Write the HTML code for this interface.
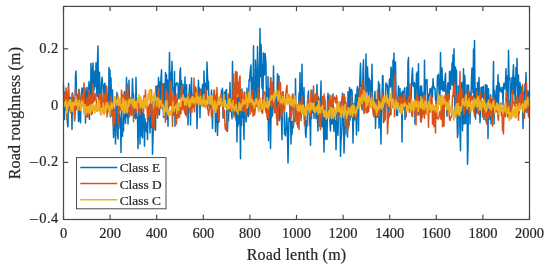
<!DOCTYPE html>
<html><head><meta charset="utf-8"><style>
html,body{margin:0;padding:0;background:#fff;}
svg{display:block;}
text{font-family:"Liberation Serif","Times New Roman",serif;fill:#262626;stroke:#262626;stroke-width:0.2px;}
</style></head><body>
<svg width="550" height="268" viewBox="0 0 550 268">
<rect x="0" y="0" width="550" height="268" fill="#fff"/>
<g stroke="#4a4a4a" stroke-width="1.2" fill="none">
<line x1="63.50" y1="219.5" x2="63.50" y2="214.8"/>
<line x1="63.50" y1="6.4" x2="63.50" y2="11.100000000000001"/>
<line x1="110.10" y1="219.5" x2="110.10" y2="214.8"/>
<line x1="110.10" y1="6.4" x2="110.10" y2="11.100000000000001"/>
<line x1="156.70" y1="219.5" x2="156.70" y2="214.8"/>
<line x1="156.70" y1="6.4" x2="156.70" y2="11.100000000000001"/>
<line x1="203.30" y1="219.5" x2="203.30" y2="214.8"/>
<line x1="203.30" y1="6.4" x2="203.30" y2="11.100000000000001"/>
<line x1="249.90" y1="219.5" x2="249.90" y2="214.8"/>
<line x1="249.90" y1="6.4" x2="249.90" y2="11.100000000000001"/>
<line x1="296.50" y1="219.5" x2="296.50" y2="214.8"/>
<line x1="296.50" y1="6.4" x2="296.50" y2="11.100000000000001"/>
<line x1="343.10" y1="219.5" x2="343.10" y2="214.8"/>
<line x1="343.10" y1="6.4" x2="343.10" y2="11.100000000000001"/>
<line x1="389.70" y1="219.5" x2="389.70" y2="214.8"/>
<line x1="389.70" y1="6.4" x2="389.70" y2="11.100000000000001"/>
<line x1="436.30" y1="219.5" x2="436.30" y2="214.8"/>
<line x1="436.30" y1="6.4" x2="436.30" y2="11.100000000000001"/>
<line x1="482.90" y1="219.5" x2="482.90" y2="214.8"/>
<line x1="482.90" y1="6.4" x2="482.90" y2="11.100000000000001"/>
<line x1="529.50" y1="219.5" x2="529.50" y2="214.8"/>
<line x1="529.50" y1="6.4" x2="529.50" y2="11.100000000000001"/>
<line x1="63.5" y1="162.40" x2="68.2" y2="162.40"/>
<line x1="529.5" y1="162.40" x2="524.8" y2="162.40"/>
<line x1="63.5" y1="105.60" x2="68.2" y2="105.60"/>
<line x1="529.5" y1="105.60" x2="524.8" y2="105.60"/>
<line x1="63.5" y1="48.80" x2="68.2" y2="48.80"/>
<line x1="529.5" y1="48.80" x2="524.8" y2="48.80"/>
</g>
<g id="data">
<path d="M63.5 84.5 L64.0 110.6 L64.5 119.5 L65.0 92.2 L65.5 110.4 L66.0 108.3 L66.5 99.2 L67.0 108.6 L67.5 124.0 L68.0 126.8 L68.5 83.3 L69.0 109.0 L69.5 96.7 L70.0 101.0 L70.5 97.9 L71.0 108.6 L71.5 103.5 L72.0 129.6 L72.5 93.1 L73.0 97.8 L73.5 100.8 L74.0 97.6 L74.5 114.3 L75.0 112.5 L75.5 75.5 L76.0 71.0 L76.5 95.1 L77.0 94.2 L77.5 100.8 L78.0 101.4 L78.5 121.6 L79.0 89.3 L79.5 93.8 L80.0 119.6 L80.5 122.8 L81.0 106.2 L81.5 93.4 L82.0 88.0 L82.5 97.5 L83.0 98.3 L83.5 88.0 L84.0 88.0 L84.5 94.2 L85.0 88.0 L85.5 123.1 L86.0 95.3 L86.5 94.4 L87.0 87.3 L87.5 99.6 L88.0 104.2 L88.5 97.1 L89.0 81.4 L89.5 119.5 L90.0 84.6 L90.5 101.0 L91.0 63.6 L91.5 100.0 L92.0 89.2 L92.5 70.6 L93.0 63.1 L93.5 87.1 L94.0 90.5 L94.5 74.9 L95.0 70.9 L95.5 86.6 L96.0 63.1 L96.5 87.7 L97.0 96.4 L97.5 60.7 L98.0 46.1 L98.5 103.3 L99.0 82.0 L99.5 72.3 L100.0 95.3 L100.5 90.4 L101.0 99.9 L101.5 82.8 L102.0 77.3 L102.5 83.9 L103.0 85.3 L103.5 99.8 L104.0 93.9 L104.5 83.8 L105.0 83.3 L105.5 103.4 L106.0 104.4 L106.5 86.6 L107.0 94.6 L107.5 102.7 L108.0 104.7 L108.5 111.6 L109.0 67.4 L109.5 99.4 L110.0 70.0 L110.5 117.0 L111.0 78.0 L111.5 99.2 L112.0 105.1 L112.5 90.0 L113.0 109.8 L113.5 137.4 L114.0 120.3 L114.5 109.2 L115.0 120.1 L115.5 144.1 L116.0 119.6 L116.5 101.5 L117.0 92.6 L117.5 135.0 L118.0 139.0 L118.5 106.0 L119.0 117.1 L119.5 113.7 L120.0 128.3 L120.5 118.2 L121.0 152.6 L121.5 106.2 L122.0 121.7 L122.5 136.3 L123.0 123.3 L123.5 131.0 L124.0 94.9 L124.5 91.5 L125.0 118.0 L125.5 123.3 L126.0 101.6 L126.5 77.5 L127.0 117.1 L127.5 99.8 L128.0 124.0 L128.5 104.4 L129.0 80.2 L129.5 104.8 L130.0 112.5 L130.5 107.3 L131.0 98.1 L131.5 104.1 L132.0 96.5 L132.5 78.8 L133.0 94.9 L133.5 94.0 L134.0 117.5 L134.5 112.1 L135.0 110.7 L135.5 118.7 L136.0 77.5 L136.5 108.6 L137.0 118.3 L137.5 117.6 L138.0 148.6 L138.5 123.7 L139.0 106.8 L139.5 99.1 L140.0 144.1 L140.5 108.1 L141.0 135.9 L141.5 101.8 L142.0 116.1 L142.5 138.0 L143.0 113.0 L143.5 127.1 L144.0 114.2 L144.5 146.3 L145.0 118.6 L145.5 125.8 L146.0 126.3 L146.5 131.9 L147.0 122.6 L147.5 139.6 L148.0 115.3 L148.5 116.6 L149.0 119.3 L149.5 117.8 L150.0 133.0 L150.5 95.1 L151.0 127.4 L151.5 110.6 L152.0 99.9 L152.5 154.2 L153.0 137.0 L153.5 125.7 L154.0 119.1 L154.5 101.3 L155.0 126.2 L155.5 130.2 L156.0 86.0 L156.5 98.3 L157.0 110.9 L157.5 86.1 L158.0 109.2 L158.5 77.5 L159.0 114.5 L159.5 114.7 L160.0 81.8 L160.5 100.7 L161.0 77.8 L161.5 69.8 L162.0 105.2 L162.5 109.1 L163.0 83.7 L163.5 117.0 L164.0 117.3 L164.5 83.4 L165.0 100.1 L165.5 72.5 L166.0 92.7 L166.5 74.8 L167.0 119.2 L167.5 79.9 L168.0 126.2 L168.5 98.5 L169.0 81.8 L169.5 52.4 L170.0 81.8 L170.5 87.8 L171.0 73.1 L171.5 82.7 L172.0 61.3 L172.5 86.3 L173.0 92.0 L173.5 88.0 L174.0 102.4 L174.5 71.4 L175.0 126.2 L175.5 84.3 L176.0 85.8 L176.5 83.1 L177.0 83.0 L177.5 82.9 L178.0 83.9 L178.5 97.3 L179.0 99.0 L179.5 90.3 L180.0 71.9 L180.5 68.0 L181.0 97.7 L181.5 80.6 L182.0 101.8 L182.5 89.2 L183.0 84.2 L183.5 96.4 L184.0 95.4 L184.5 99.5 L185.0 77.0 L185.5 114.8 L186.0 95.2 L186.5 84.7 L187.0 104.7 L187.5 97.8 L188.0 125.1 L188.5 98.4 L189.0 100.7 L189.5 84.5 L190.0 95.1 L190.5 125.1 L191.0 98.3 L191.5 78.0 L192.0 102.2 L192.5 106.7 L193.0 100.8 L193.5 94.1 L194.0 107.8 L194.5 87.7 L195.0 91.0 L195.5 101.8 L196.0 89.0 L196.5 101.2 L197.0 128.4 L197.5 110.6 L198.0 92.8 L198.5 80.2 L199.0 102.8 L199.5 88.0 L200.0 117.7 L200.5 93.8 L201.0 89.2 L201.5 105.2 L202.0 96.6 L202.5 84.6 L203.0 100.0 L203.5 104.6 L204.0 71.0 L204.5 90.1 L205.0 98.7 L205.5 83.2 L206.0 97.4 L206.5 96.1 L207.0 62.1 L207.5 76.1 L208.0 89.6 L208.5 81.6 L209.0 106.2 L209.5 98.6 L210.0 106.2 L210.5 99.7 L211.0 101.3 L211.5 89.9 L212.0 106.7 L212.5 128.4 L213.0 99.5 L213.5 94.6 L214.0 100.0 L214.5 97.4 L215.0 95.2 L215.5 131.8 L216.0 101.9 L216.5 121.9 L217.0 107.7 L217.5 135.6 L218.0 117.6 L218.5 104.5 L219.0 122.2 L219.5 101.3 L220.0 97.2 L220.5 101.3 L221.0 104.2 L221.5 90.3 L222.0 103.3 L222.5 88.2 L223.0 118.0 L223.5 104.5 L224.0 96.4 L224.5 92.0 L225.0 97.4 L225.5 99.6 L226.0 90.0 L226.5 89.7 L227.0 130.7 L227.5 131.2 L228.0 115.2 L228.5 120.6 L229.0 104.7 L229.5 110.3 L230.0 82.5 L230.5 111.4 L231.0 103.7 L231.5 111.9 L232.0 118.7 L232.5 61.4 L233.0 105.8 L233.5 86.0 L234.0 114.7 L234.5 83.6 L235.0 95.8 L235.5 110.4 L236.0 120.1 L236.5 111.5 L237.0 141.9 L237.5 97.8 L238.0 125.9 L238.5 111.8 L239.0 86.2 L239.5 123.7 L240.0 119.9 L240.5 158.7 L241.0 104.8 L241.5 125.4 L242.0 88.9 L242.5 117.6 L243.0 98.3 L243.5 119.4 L244.0 139.6 L244.5 92.0 L245.0 101.6 L245.5 103.5 L246.0 122.0 L246.5 118.0 L247.0 88.1 L247.5 106.1 L248.0 114.1 L248.5 116.6 L249.0 79.7 L249.5 81.1 L250.0 73.3 L250.5 68.9 L251.0 65.0 L251.5 99.0 L252.0 111.9 L252.5 77.6 L253.0 98.2 L253.5 45.7 L254.0 114.4 L254.5 88.7 L255.0 105.5 L255.5 60.0 L256.0 77.7 L256.5 80.0 L257.0 105.7 L257.5 46.4 L258.0 66.8 L258.5 94.1 L259.0 98.8 L259.5 80.4 L260.0 28.5 L260.5 76.7 L261.0 44.3 L261.5 53.6 L262.0 88.2 L262.5 65.0 L263.0 99.0 L263.5 53.1 L264.0 70.9 L264.5 74.8 L265.0 53.6 L265.5 57.4 L266.0 64.8 L266.5 112.5 L267.0 102.0 L267.5 119.6 L268.0 76.8 L268.5 140.7 L269.0 106.3 L269.5 88.6 L270.0 88.6 L270.5 148.6 L271.0 116.9 L271.5 117.8 L272.0 85.2 L272.5 115.8 L273.0 103.1 L273.5 65.9 L274.0 100.7 L274.5 96.4 L275.0 112.1 L275.5 108.2 L276.0 95.9 L276.5 118.1 L277.0 93.6 L277.5 73.7 L278.0 112.7 L278.5 118.5 L279.0 76.0 L279.5 120.4 L280.0 114.2 L280.5 106.1 L281.0 97.5 L281.5 120.1 L282.0 139.6 L282.5 93.2 L283.0 91.6 L283.5 102.5 L284.0 102.3 L284.5 134.3 L285.0 133.0 L285.5 135.8 L286.0 126.6 L286.5 112.5 L287.0 120.0 L287.5 135.4 L288.0 163.1 L288.5 139.9 L289.0 117.8 L289.5 120.9 L290.0 112.3 L290.5 106.2 L291.0 144.1 L291.5 121.8 L292.0 134.5 L292.5 121.5 L293.0 128.0 L293.5 124.0 L294.0 119.6 L294.5 121.4 L295.0 121.5 L295.5 78.7 L296.0 115.2 L296.5 111.3 L297.0 106.0 L297.5 105.2 L298.0 127.3 L298.5 114.1 L299.0 92.9 L299.5 104.0 L300.0 72.6 L300.5 106.0 L301.0 113.7 L301.5 107.0 L302.0 64.3 L302.5 112.6 L303.0 93.9 L303.5 98.7 L304.0 87.5 L304.5 119.5 L305.0 111.7 L305.5 133.4 L306.0 137.4 L306.5 120.8 L307.0 126.5 L307.5 107.4 L308.0 96.4 L308.5 90.9 L309.0 109.8 L309.5 125.3 L310.0 115.7 L310.5 145.2 L311.0 106.5 L311.5 118.5 L312.0 90.2 L312.5 112.3 L313.0 112.6 L313.5 95.2 L314.0 118.2 L314.5 97.9 L315.0 97.9 L315.5 96.4 L316.0 118.5 L316.5 103.0 L317.0 84.5 L317.5 121.2 L318.0 131.0 L318.5 97.1 L319.0 104.1 L319.5 119.9 L320.0 99.3 L320.5 102.0 L321.0 81.0 L321.5 126.2 L322.0 120.4 L322.5 126.9 L323.0 103.0 L323.5 128.5 L324.0 151.9 L324.5 97.0 L325.0 136.0 L325.5 139.1 L326.0 111.2 L326.5 118.1 L327.0 139.6 L327.5 101.8 L328.0 93.3 L328.5 100.4 L329.0 109.8 L329.5 110.7 L330.0 124.3 L330.5 131.0 L331.0 104.7 L331.5 123.5 L332.0 123.8 L332.5 123.7 L333.0 94.0 L333.5 121.1 L334.0 131.4 L334.5 110.0 L335.0 128.5 L335.5 120.7 L336.0 149.7 L336.5 128.7 L337.0 109.0 L337.5 122.5 L338.0 135.3 L338.5 109.6 L339.0 114.2 L339.5 111.9 L340.0 102.1 L340.5 156.4 L341.0 141.4 L341.5 135.3 L342.0 127.1 L342.5 93.3 L343.0 125.2 L343.5 112.1 L344.0 153.1 L344.5 135.8 L345.0 134.2 L345.5 113.9 L346.0 119.5 L346.5 116.2 L347.0 133.0 L347.5 137.0 L348.0 91.8 L348.5 118.4 L349.0 125.0 L349.5 87.5 L350.0 120.3 L350.5 114.4 L351.0 89.3 L351.5 89.8 L352.0 90.5 L352.5 106.0 L353.0 143.0 L353.5 118.4 L354.0 103.7 L354.5 120.0 L355.0 103.2 L355.5 94.6 L356.0 115.5 L356.5 135.1 L357.0 90.4 L357.5 86.4 L358.0 100.0 L358.5 131.0 L359.0 89.1 L359.5 92.1 L360.0 75.7 L360.5 63.2 L361.0 86.2 L361.5 85.6 L362.0 109.8 L362.5 99.9 L363.0 70.2 L363.5 59.8 L364.0 99.4 L364.5 110.1 L365.0 98.2 L365.5 94.9 L366.0 54.0 L366.5 91.9 L367.0 85.6 L367.5 67.0 L368.0 81.1 L368.5 111.4 L369.0 78.0 L369.5 90.3 L370.0 80.3 L370.5 93.0 L371.0 106.3 L371.5 92.7 L372.0 64.3 L372.5 107.6 L373.0 104.8 L373.5 114.0 L374.0 112.6 L374.5 97.3 L375.0 91.4 L375.5 128.4 L376.0 108.3 L376.5 99.7 L377.0 116.7 L377.5 117.1 L378.0 105.8 L378.5 81.6 L379.0 128.1 L379.5 84.0 L380.0 98.5 L380.5 120.3 L381.0 144.1 L381.5 99.2 L382.0 101.1 L382.5 75.5 L383.0 75.8 L383.5 122.5 L384.0 114.1 L384.5 105.3 L385.0 119.6 L385.5 93.2 L386.0 83.0 L386.5 84.1 L387.0 84.3 L387.5 87.8 L388.0 111.9 L388.5 100.9 L389.0 87.6 L389.5 79.0 L390.0 85.0 L390.5 86.9 L391.0 67.0 L391.5 71.0 L392.0 83.1 L392.5 107.2 L393.0 60.3 L393.5 85.5 L394.0 53.1 L394.5 92.4 L395.0 81.4 L395.5 62.0 L396.0 92.6 L396.5 115.2 L397.0 100.5 L397.5 115.4 L398.0 98.0 L398.5 86.0 L399.0 103.1 L399.5 92.9 L400.0 88.5 L400.5 110.7 L401.0 106.4 L401.5 92.9 L402.0 141.9 L402.5 90.9 L403.0 110.1 L403.5 91.8 L404.0 107.6 L404.5 88.0 L405.0 119.5 L405.5 105.3 L406.0 116.6 L406.5 87.2 L407.0 88.8 L407.5 109.0 L408.0 62.2 L408.5 57.6 L409.0 109.0 L409.5 103.4 L410.0 109.9 L410.5 91.8 L411.0 102.2 L411.5 85.2 L412.0 75.1 L412.5 68.1 L413.0 84.8 L413.5 86.4 L414.0 85.6 L414.5 82.5 L415.0 124.0 L415.5 84.7 L416.0 96.7 L416.5 73.3 L417.0 82.4 L417.5 71.7 L418.0 115.2 L418.5 63.7 L419.0 112.6 L419.5 114.0 L420.0 98.3 L420.5 86.2 L421.0 122.0 L421.5 85.9 L422.0 94.0 L422.5 92.3 L423.0 98.5 L423.5 104.2 L424.0 114.4 L424.5 60.3 L425.0 104.2 L425.5 83.3 L426.0 80.1 L426.5 83.2 L427.0 79.4 L427.5 102.3 L428.0 103.9 L428.5 108.0 L429.0 93.6 L429.5 95.6 L430.0 88.7 L430.5 88.9 L431.0 89.0 L431.5 95.6 L432.0 86.7 L432.5 97.2 L433.0 78.7 L433.5 87.1 L434.0 86.7 L434.5 88.6 L435.0 88.6 L435.5 100.0 L436.0 97.4 L436.5 104.8 L437.0 91.8 L437.5 75.7 L438.0 81.2 L438.5 74.2 L439.0 91.8 L439.5 104.0 L440.0 93.3 L440.5 52.5 L441.0 81.4 L441.5 89.6 L442.0 68.0 L442.5 88.0 L443.0 91.0 L443.5 81.4 L444.0 82.5 L444.5 91.1 L445.0 78.5 L445.5 73.3 L446.0 100.4 L446.5 95.2 L447.0 116.3 L447.5 86.7 L448.0 82.7 L448.5 103.7 L449.0 108.6 L449.5 71.5 L450.0 76.3 L450.5 89.3 L451.0 71.1 L451.5 84.0 L452.0 63.1 L452.5 85.2 L453.0 55.1 L453.5 85.9 L454.0 48.7 L454.5 93.1 L455.0 110.7 L455.5 67.0 L456.0 78.7 L456.5 70.3 L457.0 116.3 L457.5 137.4 L458.0 133.0 L458.5 86.0 L459.0 95.5 L459.5 103.7 L460.0 132.4 L460.5 150.8 L461.0 95.5 L461.5 85.7 L462.0 82.4 L462.5 130.7 L463.0 107.2 L463.5 68.8 L464.0 124.0 L464.5 75.2 L465.0 79.2 L465.5 123.6 L466.0 117.4 L466.5 110.9 L467.0 85.1 L467.5 164.2 L468.0 148.7 L468.5 85.0 L469.0 101.5 L469.5 92.2 L470.0 124.0 L470.5 102.6 L471.0 97.2 L471.5 78.1 L472.0 68.1 L472.5 83.3 L473.0 92.8 L473.5 49.1 L474.0 112.0 L474.5 40.6 L475.0 87.0 L475.5 119.1 L476.0 92.4 L476.5 88.7 L477.0 113.1 L477.5 82.4 L478.0 97.1 L478.5 99.2 L479.0 77.4 L479.5 101.2 L480.0 122.8 L480.5 108.5 L481.0 87.5 L481.5 97.5 L482.0 87.0 L482.5 89.8 L483.0 97.5 L483.5 86.2 L484.0 119.5 L484.5 97.7 L485.0 110.5 L485.5 84.5 L486.0 121.0 L486.5 119.8 L487.0 85.2 L487.5 97.4 L488.0 138.5 L488.5 88.8 L489.0 109.0 L489.5 113.8 L490.0 119.6 L490.5 94.8 L491.0 124.0 L491.5 99.5 L492.0 115.8 L492.5 114.3 L493.0 93.6 L493.5 61.4 L494.0 124.0 L494.5 90.5 L495.0 102.1 L495.5 104.8 L496.0 101.8 L496.5 86.1 L497.0 110.5 L497.5 95.1 L498.0 74.8 L498.5 110.1 L499.0 82.8 L499.5 86.8 L500.0 87.2 L500.5 91.5 L501.0 90.2 L501.5 92.1 L502.0 87.5 L502.5 87.5 L503.0 104.7 L503.5 87.2 L504.0 83.2 L504.5 88.9 L505.0 84.4 L505.5 82.8 L506.0 68.8 L506.5 104.3 L507.0 98.2 L507.5 75.9 L508.0 114.3 L508.5 50.2 L509.0 77.8 L509.5 79.7 L510.0 78.1 L510.5 113.7 L511.0 91.4 L511.5 87.5 L512.0 77.6 L512.5 93.7 L513.0 73.8 L513.5 64.8 L514.0 94.2 L514.5 77.5 L515.0 98.2 L515.5 104.2 L516.0 67.6 L516.5 85.6 L517.0 58.5 L517.5 87.5 L518.0 102.3 L518.5 75.0 L519.0 113.5 L519.5 90.8 L520.0 82.5 L520.5 90.7 L521.0 104.2 L521.5 86.8 L522.0 94.0 L522.5 86.7 L523.0 128.4 L523.5 100.0 L524.0 92.4 L524.5 109.1 L525.0 83.8 L525.5 91.9 L526.0 72.6 L526.5 98.4 L527.0 112.6 L527.5 101.4 L528.0 90.8 L528.5 94.6 L529.0 98.2 L529.5 93.7" stroke="#0072BD" stroke-width="1.5" fill="none" stroke-linejoin="round"/>
<path d="M63.5 98.8 L64.0 96.8 L64.5 94.0 L65.0 99.4 L65.5 104.5 L66.0 88.0 L66.5 93.8 L67.0 120.0 L67.5 104.0 L68.0 94.4 L68.5 86.0 L69.0 107.8 L69.5 108.8 L70.0 110.5 L70.5 112.7 L71.0 113.2 L71.5 107.5 L72.0 94.0 L72.5 94.7 L73.0 102.7 L73.5 100.7 L74.0 107.2 L74.5 121.0 L75.0 118.3 L75.5 87.3 L76.0 103.3 L76.5 109.7 L77.0 103.4 L77.5 98.8 L78.0 105.7 L78.5 100.7 L79.0 90.0 L79.5 98.0 L80.0 101.5 L80.5 97.2 L81.0 99.2 L81.5 99.1 L82.0 94.0 L82.5 103.6 L83.0 94.7 L83.5 92.8 L84.0 83.0 L84.5 110.1 L85.0 110.2 L85.5 108.0 L86.0 117.0 L86.5 101.7 L87.0 97.5 L87.5 116.6 L88.0 117.3 L88.5 106.0 L89.0 90.0 L89.5 113.0 L90.0 105.6 L90.5 98.7 L91.0 94.8 L91.5 114.4 L92.0 114.0 L92.5 111.4 L93.0 84.0 L93.5 102.3 L94.0 100.7 L94.5 100.3 L95.0 93.0 L95.5 96.8 L96.0 98.8 L96.5 103.9 L97.0 111.3 L97.5 110.0 L98.0 106.7 L98.5 110.2 L99.0 94.0 L99.5 94.0 L100.0 110.3 L100.5 100.1 L101.0 94.0 L101.5 107.5 L102.0 100.7 L102.5 107.3 L103.0 97.1 L103.5 94.0 L104.0 114.0 L104.5 94.0 L105.0 97.7 L105.5 99.6 L106.0 104.4 L106.5 86.0 L107.0 117.0 L107.5 109.3 L108.0 106.3 L108.5 108.4 L109.0 105.0 L109.5 101.4 L110.0 104.7 L110.5 111.5 L111.0 96.0 L111.5 115.4 L112.0 106.7 L112.5 101.9 L113.0 118.5 L113.5 126.3 L114.0 111.9 L114.5 124.0 L115.0 119.7 L115.5 103.4 L116.0 102.6 L116.5 102.6 L117.0 103.3 L117.5 94.0 L118.0 99.4 L118.5 124.0 L119.0 99.8 L119.5 107.1 L120.0 110.2 L120.5 99.9 L121.0 109.2 L121.5 90.0 L122.0 95.9 L122.5 95.1 L123.0 95.4 L123.5 114.3 L124.0 108.4 L124.5 94.0 L125.0 95.6 L125.5 106.2 L126.0 105.9 L126.5 107.7 L127.0 95.3 L127.5 84.0 L128.0 94.4 L128.5 101.3 L129.0 111.7 L129.5 117.0 L130.0 113.5 L130.5 113.7 L131.0 104.5 L131.5 115.3 L132.0 111.1 L132.5 107.6 L133.0 105.6 L133.5 121.7 L134.0 103.1 L134.5 108.5 L135.0 102.2 L135.5 101.3 L136.0 113.1 L136.5 109.7 L137.0 105.6 L137.5 99.1 L138.0 99.5 L138.5 101.7 L139.0 111.7 L139.5 104.5 L140.0 115.2 L140.5 104.1 L141.0 102.9 L141.5 109.1 L142.0 105.5 L142.5 100.6 L143.0 102.6 L143.5 113.3 L144.0 95.8 L144.5 100.0 L145.0 102.5 L145.5 90.0 L146.0 108.4 L146.5 103.2 L147.0 102.4 L147.5 120.3 L148.0 110.1 L148.5 106.4 L149.0 116.5 L149.5 104.6 L150.0 114.9 L150.5 104.5 L151.0 105.2 L151.5 90.0 L152.0 123.4 L152.5 126.5 L153.0 110.3 L153.5 118.7 L154.0 129.7 L154.5 103.2 L155.0 109.2 L155.5 108.8 L156.0 114.7 L156.5 105.9 L157.0 108.8 L157.5 118.3 L158.0 109.7 L158.5 88.0 L159.0 100.4 L159.5 108.9 L160.0 106.7 L160.5 108.2 L161.0 102.5 L161.5 102.7 L162.0 94.8 L162.5 84.5 L163.0 107.0 L163.5 104.6 L164.0 109.7 L164.5 107.4 L165.0 115.0 L165.5 122.3 L166.0 89.5 L166.5 100.2 L167.0 99.6 L167.5 92.6 L168.0 103.6 L168.5 104.8 L169.0 107.0 L169.5 101.4 L170.0 81.0 L170.5 105.6 L171.0 82.0 L171.5 104.3 L172.0 104.2 L172.5 126.2 L173.0 92.2 L173.5 94.0 L174.0 115.3 L174.5 96.2 L175.0 106.4 L175.5 100.1 L176.0 98.3 L176.5 124.0 L177.0 94.0 L177.5 106.1 L178.0 118.3 L178.5 105.7 L179.0 107.4 L179.5 117.0 L180.0 107.2 L180.5 113.8 L181.0 113.8 L181.5 86.0 L182.0 86.0 L182.5 109.8 L183.0 97.7 L183.5 98.6 L184.0 107.5 L184.5 112.5 L185.0 102.4 L185.5 103.4 L186.0 102.5 L186.5 110.8 L187.0 117.0 L187.5 100.2 L188.0 108.2 L188.5 94.0 L189.0 97.0 L189.5 94.0 L190.0 112.3 L190.5 107.6 L191.0 99.1 L191.5 97.0 L192.0 112.3 L192.5 100.2 L193.0 99.5 L193.5 105.4 L194.0 78.0 L194.5 111.8 L195.0 95.9 L195.5 86.7 L196.0 89.9 L196.5 104.9 L197.0 100.8 L197.5 97.0 L198.0 101.5 L198.5 94.0 L199.0 94.0 L199.5 102.3 L200.0 101.3 L200.5 90.4 L201.0 104.6 L201.5 100.9 L202.0 98.9 L202.5 99.6 L203.0 106.2 L203.5 105.7 L204.0 98.0 L204.5 100.3 L205.0 106.8 L205.5 89.0 L206.0 90.0 L206.5 106.0 L207.0 103.9 L207.5 109.3 L208.0 109.3 L208.5 115.3 L209.0 112.1 L209.5 104.8 L210.0 101.8 L210.5 108.3 L211.0 107.7 L211.5 117.0 L212.0 117.0 L212.5 104.3 L213.0 106.7 L213.5 97.5 L214.0 90.0 L214.5 90.4 L215.0 107.7 L215.5 99.4 L216.0 112.7 L216.5 101.8 L217.0 87.5 L217.5 105.6 L218.0 106.7 L218.5 120.3 L219.0 104.9 L219.5 106.9 L220.0 105.5 L220.5 105.0 L221.0 94.0 L221.5 94.0 L222.0 105.6 L222.5 102.1 L223.0 109.5 L223.5 117.8 L224.0 109.7 L224.5 111.2 L225.0 125.8 L225.5 129.7 L226.0 127.2 L226.5 124.3 L227.0 130.7 L227.5 112.2 L228.0 101.3 L228.5 94.0 L229.0 104.5 L229.5 108.2 L230.0 103.3 L230.5 110.3 L231.0 99.1 L231.5 110.2 L232.0 104.1 L232.5 100.5 L233.0 99.1 L233.5 74.0 L234.0 117.0 L234.5 90.8 L235.0 96.0 L235.5 71.5 L236.0 108.5 L236.5 98.2 L237.0 72.0 L237.5 93.2 L238.0 82.6 L238.5 96.8 L239.0 83.3 L239.5 78.5 L240.0 76.0 L240.5 104.0 L241.0 107.4 L241.5 98.2 L242.0 100.6 L242.5 92.2 L243.0 111.3 L243.5 111.1 L244.0 110.8 L244.5 92.8 L245.0 103.2 L245.5 113.4 L246.0 115.4 L246.5 112.3 L247.0 106.8 L247.5 102.1 L248.0 106.8 L248.5 107.3 L249.0 106.6 L249.5 103.0 L250.0 114.2 L250.5 100.9 L251.0 102.8 L251.5 100.3 L252.0 109.1 L252.5 90.0 L253.0 116.2 L253.5 113.7 L254.0 99.8 L254.5 115.1 L255.0 111.8 L255.5 106.7 L256.0 105.3 L256.5 102.5 L257.0 106.1 L257.5 106.8 L258.0 87.5 L258.5 110.3 L259.0 97.2 L259.5 104.3 L260.0 107.5 L260.5 104.6 L261.0 107.2 L261.5 111.8 L262.0 104.5 L262.5 113.4 L263.0 96.0 L263.5 94.0 L264.0 94.0 L264.5 92.0 L265.0 94.0 L265.5 105.8 L266.0 112.4 L266.5 107.3 L267.0 116.4 L267.5 109.6 L268.0 101.2 L268.5 118.3 L269.0 100.8 L269.5 106.6 L270.0 91.1 L270.5 77.8 L271.0 78.0 L271.5 106.9 L272.0 90.7 L272.5 82.0 L273.0 98.9 L273.5 108.0 L274.0 94.5 L274.5 112.8 L275.0 110.6 L275.5 101.6 L276.0 112.4 L276.5 107.6 L277.0 124.3 L277.5 125.1 L278.0 118.6 L278.5 104.9 L279.0 82.0 L279.5 106.4 L280.0 106.4 L280.5 82.4 L281.0 116.3 L281.5 104.8 L282.0 117.0 L282.5 92.4 L283.0 103.2 L283.5 101.6 L284.0 107.9 L284.5 111.0 L285.0 106.6 L285.5 97.8 L286.0 91.9 L286.5 87.8 L287.0 85.3 L287.5 103.0 L288.0 100.2 L288.5 101.0 L289.0 94.6 L289.5 103.0 L290.0 113.1 L290.5 116.2 L291.0 118.3 L291.5 112.9 L292.0 104.3 L292.5 94.0 L293.0 94.0 L293.5 125.4 L294.0 102.9 L294.5 99.0 L295.0 102.0 L295.5 100.9 L296.0 118.8 L296.5 108.0 L297.0 124.3 L297.5 110.8 L298.0 123.6 L298.5 103.3 L299.0 129.6 L299.5 102.1 L300.0 102.0 L300.5 105.5 L301.0 120.6 L301.5 111.9 L302.0 96.5 L302.5 112.8 L303.0 104.2 L303.5 104.9 L304.0 106.5 L304.5 125.4 L305.0 118.3 L305.5 108.6 L306.0 110.1 L306.5 113.4 L307.0 106.4 L307.5 101.5 L308.0 97.5 L308.5 106.0 L309.0 105.3 L309.5 108.5 L310.0 109.6 L310.5 117.0 L311.0 90.0 L311.5 111.7 L312.0 99.7 L312.5 95.6 L313.0 98.9 L313.5 86.0 L314.0 105.1 L314.5 96.4 L315.0 102.2 L315.5 94.0 L316.0 94.0 L316.5 98.2 L317.0 101.7 L317.5 94.0 L318.0 102.4 L318.5 112.6 L319.0 114.6 L319.5 126.3 L320.0 103.4 L320.5 129.7 L321.0 108.8 L321.5 118.7 L322.0 108.7 L322.5 96.7 L323.0 104.7 L323.5 111.1 L324.0 94.0 L324.5 101.6 L325.0 100.0 L325.5 116.1 L326.0 113.4 L326.5 111.4 L327.0 114.3 L327.5 118.3 L328.0 100.1 L328.5 105.8 L329.0 101.8 L329.5 105.6 L330.0 94.9 L330.5 105.5 L331.0 110.3 L331.5 107.7 L332.0 96.0 L332.5 115.3 L333.0 103.4 L333.5 99.6 L334.0 97.1 L334.5 99.9 L335.0 97.7 L335.5 102.7 L336.0 100.9 L336.5 95.6 L337.0 98.0 L337.5 120.3 L338.0 106.2 L338.5 104.8 L339.0 105.7 L339.5 105.5 L340.0 110.5 L340.5 111.5 L341.0 105.1 L341.5 101.1 L342.0 97.9 L342.5 95.6 L343.0 112.3 L343.5 103.7 L344.0 94.0 L344.5 96.3 L345.0 98.3 L345.5 126.3 L346.0 102.2 L346.5 110.9 L347.0 113.4 L347.5 132.9 L348.0 128.4 L348.5 127.4 L349.0 124.9 L349.5 109.4 L350.0 106.2 L350.5 109.3 L351.0 117.0 L351.5 96.0 L352.0 117.0 L352.5 110.8 L353.0 112.0 L353.5 113.1 L354.0 106.1 L354.5 110.6 L355.0 114.0 L355.5 118.3 L356.0 112.3 L356.5 117.0 L357.0 110.3 L357.5 106.8 L358.0 103.2 L358.5 99.6 L359.0 102.8 L359.5 90.0 L360.0 99.7 L360.5 96.0 L361.0 89.0 L361.5 106.2 L362.0 99.6 L362.5 81.0 L363.0 93.5 L363.5 110.5 L364.0 113.6 L364.5 101.8 L365.0 106.5 L365.5 86.0 L366.0 112.8 L366.5 103.1 L367.0 103.9 L367.5 112.8 L368.0 102.3 L368.5 111.6 L369.0 102.3 L369.5 105.2 L370.0 103.3 L370.5 103.8 L371.0 105.5 L371.5 92.0 L372.0 99.2 L372.5 107.8 L373.0 110.3 L373.5 114.6 L374.0 116.9 L374.5 102.2 L375.0 111.3 L375.5 112.2 L376.0 106.1 L376.5 111.5 L377.0 116.2 L377.5 90.0 L378.0 97.8 L378.5 100.3 L379.0 117.0 L379.5 112.9 L380.0 101.5 L380.5 102.8 L381.0 98.9 L381.5 101.1 L382.0 105.4 L382.5 94.0 L383.0 103.0 L383.5 116.0 L384.0 114.3 L384.5 121.0 L385.0 116.6 L385.5 102.6 L386.0 96.8 L386.5 94.0 L387.0 101.4 L387.5 134.0 L388.0 124.3 L388.5 113.1 L389.0 117.3 L389.5 115.6 L390.0 102.7 L390.5 101.9 L391.0 114.8 L391.5 98.6 L392.0 98.8 L392.5 96.9 L393.0 97.9 L393.5 89.8 L394.0 80.0 L394.5 116.8 L395.0 74.4 L395.5 99.5 L396.0 99.2 L396.5 105.5 L397.0 99.5 L397.5 105.2 L398.0 97.8 L398.5 97.3 L399.0 99.5 L399.5 97.9 L400.0 112.3 L400.5 95.8 L401.0 102.3 L401.5 106.3 L402.0 98.8 L402.5 104.3 L403.0 105.8 L403.5 94.4 L404.0 94.0 L404.5 100.6 L405.0 97.2 L405.5 107.6 L406.0 117.0 L406.5 106.4 L407.0 100.5 L407.5 102.2 L408.0 107.3 L408.5 97.1 L409.0 109.1 L409.5 112.3 L410.0 84.0 L410.5 102.2 L411.0 109.2 L411.5 111.7 L412.0 116.3 L412.5 116.6 L413.0 106.5 L413.5 107.7 L414.0 101.7 L414.5 106.3 L415.0 113.9 L415.5 103.0 L416.0 125.1 L416.5 97.7 L417.0 94.0 L417.5 96.3 L418.0 98.0 L418.5 104.1 L419.0 113.7 L419.5 102.9 L420.0 107.2 L420.5 119.5 L421.0 121.7 L421.5 119.2 L422.0 115.5 L422.5 117.0 L423.0 108.8 L423.5 97.8 L424.0 95.4 L424.5 118.3 L425.0 95.2 L425.5 100.9 L426.0 112.2 L426.5 114.1 L427.0 113.5 L427.5 107.4 L428.0 103.0 L428.5 127.3 L429.0 108.7 L429.5 110.6 L430.0 112.3 L430.5 109.6 L431.0 95.3 L431.5 95.5 L432.0 97.7 L432.5 124.3 L433.0 109.9 L433.5 115.3 L434.0 126.8 L434.5 118.4 L435.0 110.5 L435.5 132.9 L436.0 101.4 L436.5 102.0 L437.0 118.6 L437.5 117.9 L438.0 119.0 L438.5 118.9 L439.0 117.0 L439.5 112.2 L440.0 111.6 L440.5 115.3 L441.0 119.3 L441.5 96.0 L442.0 100.0 L442.5 126.8 L443.0 99.4 L443.5 110.7 L444.0 126.2 L444.5 98.0 L445.0 96.2 L445.5 94.2 L446.0 95.6 L446.5 105.5 L447.0 98.4 L447.5 94.0 L448.0 94.0 L448.5 95.9 L449.0 112.3 L449.5 119.1 L450.0 120.6 L450.5 118.3 L451.0 116.7 L451.5 117.0 L452.0 108.2 L452.5 95.7 L453.0 96.0 L453.5 87.0 L454.0 96.6 L454.5 83.0 L455.0 87.2 L455.5 94.3 L456.0 99.8 L456.5 110.0 L457.0 115.3 L457.5 112.4 L458.0 97.7 L458.5 94.4 L459.0 107.5 L459.5 96.0 L460.0 71.5 L460.5 111.8 L461.0 104.6 L461.5 88.2 L462.0 91.8 L462.5 101.8 L463.0 98.7 L463.5 109.2 L464.0 114.3 L464.5 112.2 L465.0 97.2 L465.5 99.2 L466.0 94.0 L466.5 101.2 L467.0 101.0 L467.5 107.6 L468.0 101.0 L468.5 90.0 L469.0 112.8 L469.5 101.5 L470.0 110.2 L470.5 96.8 L471.0 98.6 L471.5 95.2 L472.0 99.5 L472.5 96.6 L473.0 97.2 L473.5 102.8 L474.0 107.4 L474.5 116.3 L475.0 99.0 L475.5 103.7 L476.0 101.8 L476.5 101.2 L477.0 91.0 L477.5 102.1 L478.0 101.4 L478.5 114.3 L479.0 111.9 L479.5 99.3 L480.0 93.0 L480.5 92.0 L481.0 99.9 L481.5 107.1 L482.0 104.0 L482.5 117.0 L483.0 111.0 L483.5 117.0 L484.0 117.0 L484.5 94.0 L485.0 105.3 L485.5 115.3 L486.0 110.2 L486.5 124.0 L487.0 112.9 L487.5 118.0 L488.0 114.4 L488.5 117.0 L489.0 111.1 L489.5 117.0 L490.0 110.2 L490.5 96.0 L491.0 115.2 L491.5 109.6 L492.0 110.1 L492.5 126.2 L493.0 99.5 L493.5 97.7 L494.0 103.4 L494.5 99.3 L495.0 107.2 L495.5 111.0 L496.0 112.1 L496.5 106.5 L497.0 107.9 L497.5 108.0 L498.0 117.2 L498.5 120.3 L499.0 105.7 L499.5 106.4 L500.0 107.5 L500.5 103.7 L501.0 103.1 L501.5 115.7 L502.0 108.0 L502.5 130.4 L503.0 129.7 L503.5 134.0 L504.0 104.0 L504.5 114.4 L505.0 116.0 L505.5 116.9 L506.0 100.4 L506.5 92.0 L507.0 102.3 L507.5 115.4 L508.0 117.0 L508.5 117.0 L509.0 113.5 L509.5 99.9 L510.0 110.8 L510.5 118.3 L511.0 106.9 L511.5 114.7 L512.0 113.6 L512.5 90.0 L513.0 102.1 L513.5 101.8 L514.0 103.6 L514.5 106.1 L515.0 101.9 L515.5 103.1 L516.0 108.2 L516.5 96.0 L517.0 104.4 L517.5 103.3 L518.0 104.0 L518.5 120.3 L519.0 101.2 L519.5 96.9 L520.0 102.1 L520.5 94.0 L521.0 106.1 L521.5 106.3 L522.0 95.4 L522.5 84.5 L523.0 97.2 L523.5 113.5 L524.0 110.7 L524.5 118.3 L525.0 103.3 L525.5 102.6 L526.0 111.4 L526.5 82.0 L527.0 108.8 L527.5 96.7 L528.0 106.1 L528.5 117.0 L529.0 114.0 L529.5 106.9" stroke="#D95319" stroke-width="1.5" fill="none" stroke-linejoin="round"/>
<path d="M63.5 106.8 L63.8 103.6 L64.0 105.5 L64.2 102.5 L64.5 104.5 L64.8 104.1 L65.0 102.4 L65.2 106.0 L65.5 101.2 L65.8 103.3 L66.0 100.3 L66.2 108.5 L66.5 113.0 L66.8 111.8 L67.0 112.7 L67.2 111.5 L67.5 109.9 L67.8 106.1 L68.0 102.6 L68.2 104.1 L68.5 102.8 L68.8 102.4 L69.0 105.8 L69.2 104.8 L69.5 99.9 L69.8 101.6 L70.0 100.7 L70.2 101.8 L70.5 99.8 L70.8 105.9 L71.0 111.2 L71.2 104.4 L71.5 106.5 L71.8 107.4 L72.0 102.7 L72.2 103.9 L72.5 108.7 L72.8 109.3 L73.0 112.0 L73.2 104.6 L73.5 102.3 L73.8 104.3 L74.0 105.6 L74.2 105.1 L74.5 103.6 L74.8 102.8 L75.0 101.8 L75.2 104.6 L75.5 96.2 L75.8 105.2 L76.0 103.2 L76.2 99.4 L76.5 103.7 L76.8 99.7 L77.0 103.4 L77.2 102.7 L77.5 105.5 L77.8 107.5 L78.0 110.2 L78.2 105.9 L78.5 104.5 L78.8 104.7 L79.0 100.4 L79.2 104.6 L79.5 105.3 L79.8 101.1 L80.0 106.9 L80.2 110.4 L80.5 103.8 L80.8 106.3 L81.0 109.8 L81.2 110.2 L81.5 104.8 L81.8 100.7 L82.0 102.7 L82.2 102.6 L82.5 104.0 L82.8 104.4 L83.0 106.6 L83.2 104.4 L83.5 104.5 L83.8 113.5 L84.0 109.7 L84.2 110.1 L84.5 108.9 L84.8 108.2 L85.0 104.4 L85.2 107.0 L85.5 106.6 L85.8 109.2 L86.0 114.5 L86.2 111.4 L86.5 111.7 L86.8 106.4 L87.0 107.4 L87.2 112.4 L87.5 109.9 L87.8 107.0 L88.0 108.1 L88.2 107.5 L88.5 107.1 L88.8 106.5 L89.0 113.5 L89.2 108.2 L89.5 106.9 L89.8 105.8 L90.0 110.9 L90.2 108.8 L90.5 112.6 L90.8 111.0 L91.0 109.6 L91.2 104.4 L91.5 110.2 L91.8 110.9 L92.0 110.9 L92.2 109.3 L92.5 107.5 L92.8 104.0 L93.0 109.1 L93.2 109.6 L93.5 107.8 L93.8 106.1 L94.0 107.6 L94.2 107.7 L94.5 113.1 L94.8 113.1 L95.0 108.9 L95.2 105.1 L95.5 106.0 L95.8 104.3 L96.0 106.5 L96.2 108.6 L96.5 110.4 L96.8 110.6 L97.0 108.7 L97.2 110.3 L97.5 106.4 L97.8 106.9 L98.0 109.9 L98.2 109.8 L98.5 104.8 L98.8 102.7 L99.0 100.1 L99.2 109.5 L99.5 103.7 L99.8 105.2 L100.0 112.1 L100.2 113.2 L100.5 114.4 L100.8 109.4 L101.0 110.8 L101.2 115.3 L101.5 113.0 L101.8 111.5 L102.0 108.6 L102.2 108.0 L102.5 109.0 L102.8 112.6 L103.0 107.4 L103.2 103.1 L103.5 105.5 L103.8 107.3 L104.0 112.0 L104.2 112.2 L104.5 108.2 L104.8 109.9 L105.0 112.5 L105.2 111.2 L105.5 108.7 L105.8 110.6 L106.0 108.3 L106.2 102.5 L106.5 109.6 L106.8 104.9 L107.0 105.6 L107.2 105.9 L107.5 106.0 L107.8 106.2 L108.0 102.7 L108.2 107.1 L108.5 107.6 L108.8 107.9 L109.0 111.2 L109.2 112.9 L109.5 114.4 L109.8 115.4 L110.0 113.4 L110.2 105.5 L110.5 106.9 L110.8 106.8 L111.0 106.9 L111.2 104.8 L111.5 102.7 L111.8 106.8 L112.0 109.3 L112.2 104.0 L112.5 106.4 L112.8 105.2 L113.0 103.9 L113.2 106.4 L113.5 105.3 L113.8 103.0 L114.0 103.6 L114.2 97.3 L114.5 98.4 L114.8 99.3 L115.0 96.6 L115.2 100.0 L115.5 101.8 L115.8 99.9 L116.0 100.2 L116.2 102.8 L116.5 105.3 L116.8 100.7 L117.0 101.9 L117.2 104.6 L117.5 102.6 L117.8 99.4 L118.0 97.8 L118.2 98.5 L118.5 96.7 L118.8 105.4 L119.0 101.8 L119.2 103.0 L119.5 103.2 L119.8 104.8 L120.0 102.6 L120.2 98.7 L120.5 106.1 L120.8 104.5 L121.0 104.5 L121.2 104.8 L121.5 108.4 L121.8 108.7 L122.0 110.2 L122.2 110.0 L122.5 107.8 L122.8 107.1 L123.0 103.8 L123.2 98.4 L123.5 101.1 L123.8 99.9 L124.0 110.8 L124.2 113.0 L124.5 113.0 L124.8 107.7 L125.0 113.2 L125.2 104.2 L125.5 101.3 L125.8 101.2 L126.0 100.6 L126.2 103.8 L126.5 105.5 L126.8 111.8 L127.0 112.0 L127.2 112.9 L127.5 110.8 L127.8 107.9 L128.0 104.8 L128.2 100.7 L128.5 100.6 L128.8 102.0 L129.0 106.3 L129.2 100.7 L129.5 98.9 L129.8 102.8 L130.0 100.8 L130.2 104.0 L130.5 103.3 L130.8 101.7 L131.0 99.1 L131.2 101.6 L131.5 100.8 L131.8 100.7 L132.0 100.5 L132.2 103.0 L132.5 104.0 L132.8 98.7 L133.0 100.8 L133.2 103.6 L133.5 106.9 L133.8 107.7 L134.0 106.2 L134.2 101.2 L134.5 99.8 L134.8 104.3 L135.0 101.4 L135.2 105.2 L135.5 107.8 L135.8 101.7 L136.0 103.2 L136.2 102.2 L136.5 108.3 L136.8 107.5 L137.0 102.9 L137.2 103.3 L137.5 99.4 L137.8 99.8 L138.0 101.1 L138.2 101.6 L138.5 102.4 L138.8 99.0 L139.0 94.4 L139.2 96.9 L139.5 96.5 L139.8 97.1 L140.0 106.3 L140.2 108.0 L140.5 104.8 L140.8 99.5 L141.0 97.3 L141.2 101.6 L141.5 106.0 L141.8 104.1 L142.0 104.6 L142.2 105.3 L142.5 108.2 L142.8 100.5 L143.0 103.0 L143.2 105.0 L143.5 107.7 L143.8 107.2 L144.0 102.3 L144.2 101.3 L144.5 97.8 L144.8 101.3 L145.0 102.9 L145.2 104.5 L145.5 100.6 L145.8 97.9 L146.0 104.8 L146.2 103.8 L146.5 108.1 L146.8 106.0 L147.0 98.8 L147.2 102.2 L147.5 105.0 L147.8 101.0 L148.0 94.3 L148.2 98.8 L148.5 98.5 L148.8 99.4 L149.0 90.7 L149.2 95.8 L149.5 90.1 L149.8 90.3 L150.0 96.6 L150.2 91.3 L150.5 89.3 L150.8 91.3 L151.0 99.3 L151.2 103.1 L151.5 98.1 L151.8 100.7 L152.0 100.6 L152.2 99.7 L152.5 99.6 L152.8 96.2 L153.0 99.4 L153.2 101.9 L153.5 105.8 L153.8 106.0 L154.0 94.6 L154.2 92.9 L154.5 97.0 L154.8 98.3 L155.0 93.0 L155.2 95.9 L155.5 96.8 L155.8 98.3 L156.0 98.9 L156.2 102.6 L156.5 106.3 L156.8 105.8 L157.0 100.1 L157.2 98.1 L157.5 97.8 L157.8 99.7 L158.0 99.6 L158.2 99.9 L158.5 98.4 L158.8 103.6 L159.0 106.0 L159.2 107.6 L159.5 105.3 L159.8 106.0 L160.0 102.2 L160.2 100.1 L160.5 100.6 L160.8 104.6 L161.0 104.4 L161.2 101.3 L161.5 103.8 L161.8 106.2 L162.0 106.7 L162.2 104.5 L162.5 105.8 L162.8 105.0 L163.0 105.1 L163.2 105.9 L163.5 109.1 L163.8 114.1 L164.0 115.7 L164.2 113.9 L164.5 109.7 L164.8 108.0 L165.0 107.3 L165.2 111.5 L165.5 101.4 L165.8 105.8 L166.0 101.0 L166.2 104.8 L166.5 110.9 L166.8 107.0 L167.0 100.7 L167.2 108.8 L167.5 113.5 L167.8 112.7 L168.0 114.6 L168.2 109.2 L168.5 112.6 L168.8 116.0 L169.0 114.4 L169.2 112.5 L169.5 114.6 L169.8 115.3 L170.0 109.7 L170.2 113.5 L170.5 113.5 L170.8 111.7 L171.0 114.4 L171.2 114.6 L171.5 114.2 L171.8 110.1 L172.0 112.2 L172.2 107.3 L172.5 107.9 L172.8 103.3 L173.0 101.2 L173.2 106.5 L173.5 107.6 L173.8 108.6 L174.0 110.7 L174.2 110.9 L174.5 107.1 L174.8 108.2 L175.0 108.2 L175.2 106.7 L175.5 107.0 L175.8 106.4 L176.0 105.1 L176.2 105.2 L176.5 107.0 L176.8 113.4 L177.0 107.6 L177.2 108.6 L177.5 102.9 L177.8 109.4 L178.0 106.4 L178.2 106.3 L178.5 109.7 L178.8 110.3 L179.0 102.7 L179.2 105.1 L179.5 103.7 L179.8 105.5 L180.0 104.8 L180.2 106.2 L180.5 105.3 L180.8 103.4 L181.0 106.5 L181.2 99.4 L181.5 99.2 L181.8 97.5 L182.0 99.0 L182.2 98.9 L182.5 99.7 L182.8 99.0 L183.0 98.7 L183.2 94.9 L183.5 98.0 L183.8 100.7 L184.0 99.2 L184.2 98.3 L184.5 98.0 L184.8 105.1 L185.0 104.0 L185.2 104.2 L185.5 102.2 L185.8 100.6 L186.0 98.7 L186.2 105.3 L186.5 98.6 L186.8 101.5 L187.0 102.0 L187.2 101.6 L187.5 97.3 L187.8 96.2 L188.0 102.7 L188.2 100.7 L188.5 104.6 L188.8 105.9 L189.0 106.3 L189.2 107.0 L189.5 101.2 L189.8 100.5 L190.0 103.7 L190.2 99.2 L190.5 106.0 L190.8 102.4 L191.0 102.0 L191.2 98.7 L191.5 101.3 L191.8 99.1 L192.0 99.4 L192.2 96.6 L192.5 102.4 L192.8 96.4 L193.0 99.7 L193.2 100.7 L193.5 101.7 L193.8 97.7 L194.0 102.0 L194.2 103.9 L194.5 102.4 L194.8 102.1 L195.0 100.6 L195.2 102.3 L195.5 98.7 L195.8 101.2 L196.0 102.1 L196.2 97.0 L196.5 92.6 L196.8 95.5 L197.0 97.8 L197.2 103.4 L197.5 102.6 L197.8 100.6 L198.0 97.0 L198.2 99.2 L198.5 98.9 L198.8 97.2 L199.0 99.4 L199.2 104.3 L199.5 103.8 L199.8 100.0 L200.0 102.4 L200.2 99.3 L200.5 96.2 L200.8 101.1 L201.0 100.4 L201.2 105.1 L201.5 105.0 L201.8 101.4 L202.0 102.8 L202.2 106.7 L202.5 104.0 L202.8 99.9 L203.0 98.9 L203.2 97.9 L203.5 96.1 L203.8 94.8 L204.0 99.3 L204.2 103.6 L204.5 101.1 L204.8 103.3 L205.0 104.7 L205.2 107.7 L205.5 103.3 L205.8 100.6 L206.0 101.6 L206.2 101.0 L206.5 101.4 L206.8 104.7 L207.0 101.0 L207.2 101.2 L207.5 97.6 L207.8 98.5 L208.0 97.4 L208.2 96.6 L208.5 98.1 L208.8 98.2 L209.0 100.9 L209.2 103.7 L209.5 98.0 L209.8 103.1 L210.0 95.7 L210.2 99.8 L210.5 103.4 L210.8 101.1 L211.0 101.4 L211.2 99.9 L211.5 104.5 L211.8 95.5 L212.0 96.1 L212.2 95.9 L212.5 99.8 L212.8 106.2 L213.0 109.1 L213.2 109.1 L213.5 107.8 L213.8 104.0 L214.0 108.3 L214.2 108.7 L214.5 104.3 L214.8 100.7 L215.0 101.0 L215.2 106.4 L215.5 109.7 L215.8 112.4 L216.0 106.2 L216.2 104.4 L216.5 108.8 L216.8 107.4 L217.0 108.2 L217.2 102.1 L217.5 101.9 L217.8 102.8 L218.0 102.1 L218.2 101.4 L218.5 97.2 L218.8 105.1 L219.0 104.3 L219.2 98.8 L219.5 103.8 L219.8 103.0 L220.0 104.5 L220.2 102.4 L220.5 99.3 L220.8 97.8 L221.0 100.3 L221.2 102.9 L221.5 103.2 L221.8 103.8 L222.0 105.9 L222.2 104.0 L222.5 105.3 L222.8 106.4 L223.0 104.4 L223.2 102.3 L223.5 100.3 L223.8 96.9 L224.0 94.3 L224.2 102.0 L224.5 101.8 L224.8 100.2 L225.0 106.1 L225.2 107.2 L225.5 105.0 L225.8 106.9 L226.0 104.2 L226.2 104.6 L226.5 109.4 L226.8 109.4 L227.0 105.3 L227.2 106.2 L227.5 108.2 L227.8 105.1 L228.0 102.6 L228.2 108.4 L228.5 104.6 L228.8 99.4 L229.0 101.4 L229.2 109.1 L229.5 107.8 L229.8 108.2 L230.0 98.7 L230.2 99.1 L230.5 104.9 L230.8 102.8 L231.0 107.3 L231.2 107.1 L231.5 106.8 L231.8 110.9 L232.0 106.3 L232.2 104.2 L232.5 105.2 L232.8 106.2 L233.0 100.8 L233.2 107.5 L233.5 107.8 L233.8 106.8 L234.0 108.9 L234.2 106.9 L234.5 110.9 L234.8 109.5 L235.0 110.8 L235.2 106.5 L235.5 106.3 L235.8 108.2 L236.0 105.0 L236.2 104.3 L236.5 105.8 L236.8 110.2 L237.0 111.2 L237.2 112.1 L237.5 110.7 L237.8 111.7 L238.0 114.2 L238.2 111.1 L238.5 110.3 L238.8 110.4 L239.0 102.2 L239.2 104.0 L239.5 106.5 L239.8 108.7 L240.0 106.4 L240.2 109.2 L240.5 105.5 L240.8 105.1 L241.0 110.6 L241.2 103.8 L241.5 104.3 L241.8 104.3 L242.0 104.3 L242.2 102.9 L242.5 105.9 L242.8 101.9 L243.0 99.1 L243.2 103.2 L243.5 100.0 L243.8 103.1 L244.0 103.6 L244.2 101.5 L244.5 101.5 L244.8 102.1 L245.0 104.1 L245.2 101.6 L245.5 101.6 L245.8 97.7 L246.0 99.2 L246.2 94.8 L246.5 98.3 L246.8 98.7 L247.0 106.8 L247.2 108.1 L247.5 104.3 L247.8 105.7 L248.0 104.2 L248.2 98.9 L248.5 92.4 L248.8 99.7 L249.0 101.2 L249.2 94.6 L249.5 99.3 L249.8 102.4 L250.0 99.0 L250.2 101.9 L250.5 95.5 L250.8 97.0 L251.0 98.6 L251.2 101.7 L251.5 102.1 L251.8 101.9 L252.0 102.9 L252.2 99.7 L252.5 104.8 L252.8 101.8 L253.0 103.9 L253.2 102.6 L253.5 101.3 L253.8 103.4 L254.0 104.1 L254.2 107.4 L254.5 108.3 L254.8 103.7 L255.0 104.9 L255.2 104.3 L255.5 101.4 L255.8 99.1 L256.0 102.3 L256.2 101.5 L256.5 98.5 L256.8 101.2 L257.0 103.6 L257.2 104.5 L257.5 101.0 L257.8 101.2 L258.0 107.4 L258.2 103.9 L258.5 103.6 L258.8 111.7 L259.0 109.6 L259.2 105.9 L259.5 99.6 L259.8 103.5 L260.0 100.1 L260.2 102.6 L260.5 101.2 L260.8 98.0 L261.0 106.8 L261.2 105.7 L261.5 108.3 L261.8 109.0 L262.0 104.8 L262.2 105.3 L262.5 104.2 L262.8 107.8 L263.0 107.9 L263.2 105.6 L263.5 110.8 L263.8 109.9 L264.0 109.3 L264.2 105.2 L264.5 106.9 L264.8 102.0 L265.0 105.5 L265.2 103.0 L265.5 105.2 L265.8 104.9 L266.0 106.3 L266.2 107.3 L266.5 106.5 L266.8 106.0 L267.0 101.2 L267.2 97.6 L267.5 105.2 L267.8 106.8 L268.0 101.0 L268.2 108.5 L268.5 103.9 L268.8 105.2 L269.0 105.3 L269.2 104.2 L269.5 105.0 L269.8 98.9 L270.0 99.8 L270.2 99.4 L270.5 100.0 L270.8 98.9 L271.0 97.0 L271.2 95.5 L271.5 99.6 L271.8 96.0 L272.0 97.8 L272.2 98.4 L272.5 97.1 L272.8 97.9 L273.0 98.6 L273.2 95.4 L273.5 96.4 L273.8 101.7 L274.0 95.0 L274.2 94.0 L274.5 92.0 L274.8 99.5 L275.0 92.7 L275.2 93.7 L275.5 97.2 L275.8 93.3 L276.0 93.7 L276.2 92.2 L276.5 89.5 L276.8 92.2 L277.0 95.5 L277.2 94.4 L277.5 95.7 L277.8 98.2 L278.0 101.1 L278.2 95.1 L278.5 98.0 L278.8 95.8 L279.0 90.9 L279.2 92.0 L279.5 97.2 L279.8 98.8 L280.0 95.4 L280.2 102.3 L280.5 102.1 L280.8 100.6 L281.0 98.5 L281.2 100.6 L281.5 99.2 L281.8 103.3 L282.0 102.9 L282.2 103.7 L282.5 101.3 L282.8 96.5 L283.0 100.4 L283.2 97.6 L283.5 99.1 L283.8 100.2 L284.0 98.3 L284.2 102.6 L284.5 97.6 L284.8 104.2 L285.0 101.0 L285.2 104.2 L285.5 106.8 L285.8 101.4 L286.0 99.1 L286.2 103.1 L286.5 102.8 L286.8 102.2 L287.0 96.0 L287.2 93.4 L287.5 98.9 L287.8 104.4 L288.0 100.5 L288.2 98.0 L288.5 100.1 L288.8 101.9 L289.0 103.1 L289.2 100.7 L289.5 94.8 L289.8 102.4 L290.0 100.2 L290.2 104.6 L290.5 96.7 L290.8 100.2 L291.0 99.3 L291.2 97.0 L291.5 102.4 L291.8 106.1 L292.0 102.2 L292.2 104.2 L292.5 99.9 L292.8 99.3 L293.0 100.2 L293.2 100.4 L293.5 103.7 L293.8 99.8 L294.0 104.6 L294.2 107.2 L294.5 104.9 L294.8 100.9 L295.0 96.2 L295.2 99.8 L295.5 100.2 L295.8 103.0 L296.0 101.0 L296.2 103.4 L296.5 104.6 L296.8 105.5 L297.0 107.0 L297.2 107.9 L297.5 110.6 L297.8 106.6 L298.0 109.5 L298.2 109.3 L298.5 107.6 L298.8 105.1 L299.0 111.6 L299.2 111.2 L299.5 108.8 L299.8 109.5 L300.0 109.8 L300.2 108.4 L300.5 105.1 L300.8 108.2 L301.0 108.9 L301.2 108.8 L301.5 112.7 L301.8 107.6 L302.0 106.1 L302.2 108.7 L302.5 112.1 L302.8 113.0 L303.0 113.8 L303.2 105.0 L303.5 108.9 L303.8 110.5 L304.0 112.1 L304.2 108.6 L304.5 110.4 L304.8 112.8 L305.0 115.8 L305.2 113.1 L305.5 106.8 L305.8 107.9 L306.0 110.2 L306.2 111.0 L306.5 115.6 L306.8 111.4 L307.0 106.8 L307.2 105.7 L307.5 109.1 L307.8 106.3 L308.0 104.2 L308.2 103.8 L308.5 109.9 L308.8 110.0 L309.0 108.3 L309.2 111.1 L309.5 112.0 L309.8 107.4 L310.0 110.7 L310.2 110.6 L310.5 103.5 L310.8 102.7 L311.0 106.7 L311.2 109.5 L311.5 108.6 L311.8 105.9 L312.0 108.5 L312.2 103.4 L312.5 108.2 L312.8 108.4 L313.0 108.9 L313.2 107.3 L313.5 111.0 L313.8 103.1 L314.0 103.6 L314.2 108.3 L314.5 106.7 L314.8 112.5 L315.0 112.2 L315.2 108.4 L315.5 112.2 L315.8 110.3 L316.0 111.5 L316.2 108.3 L316.5 106.7 L316.8 110.0 L317.0 109.7 L317.2 106.9 L317.5 105.1 L317.8 108.9 L318.0 114.2 L318.2 108.8 L318.5 110.8 L318.8 100.8 L319.0 100.4 L319.2 106.6 L319.5 112.5 L319.8 110.8 L320.0 111.4 L320.2 110.9 L320.5 112.9 L320.8 107.5 L321.0 110.2 L321.2 108.2 L321.5 107.6 L321.8 108.3 L322.0 108.1 L322.2 106.3 L322.5 107.1 L322.8 105.4 L323.0 112.1 L323.2 113.1 L323.5 110.2 L323.8 115.0 L324.0 116.6 L324.2 114.9 L324.5 111.1 L324.8 111.7 L325.0 113.0 L325.2 116.3 L325.5 113.2 L325.8 110.5 L326.0 118.1 L326.2 119.2 L326.5 116.5 L326.8 111.5 L327.0 113.4 L327.2 116.4 L327.5 116.9 L327.8 117.4 L328.0 115.4 L328.2 117.8 L328.5 113.7 L328.8 112.2 L329.0 111.3 L329.2 110.4 L329.5 118.0 L329.8 110.6 L330.0 112.8 L330.2 110.1 L330.5 108.0 L330.8 111.0 L331.0 107.4 L331.2 110.1 L331.5 118.7 L331.8 115.6 L332.0 115.7 L332.2 111.7 L332.5 113.7 L332.8 108.6 L333.0 111.1 L333.2 111.4 L333.5 118.5 L333.8 115.1 L334.0 112.4 L334.2 110.4 L334.5 107.4 L334.8 111.9 L335.0 116.1 L335.2 112.6 L335.5 114.1 L335.8 111.5 L336.0 112.4 L336.2 113.0 L336.5 107.4 L336.8 106.6 L337.0 111.4 L337.2 104.9 L337.5 107.6 L337.8 107.8 L338.0 106.0 L338.2 108.0 L338.5 109.8 L338.8 111.4 L339.0 102.3 L339.2 111.1 L339.5 108.7 L339.8 112.2 L340.0 110.3 L340.2 107.9 L340.5 108.3 L340.8 117.0 L341.0 117.0 L341.2 112.7 L341.5 111.6 L341.8 113.8 L342.0 113.2 L342.2 111.4 L342.5 109.7 L342.8 106.1 L343.0 110.0 L343.2 113.1 L343.5 117.4 L343.8 112.2 L344.0 113.0 L344.2 111.3 L344.5 114.5 L344.8 112.0 L345.0 109.0 L345.2 104.4 L345.5 109.6 L345.8 110.5 L346.0 114.1 L346.2 110.7 L346.5 118.7 L346.8 112.7 L347.0 113.5 L347.2 113.6 L347.5 115.9 L347.8 113.1 L348.0 109.4 L348.2 107.4 L348.5 112.1 L348.8 112.2 L349.0 113.1 L349.2 109.9 L349.5 111.4 L349.8 112.3 L350.0 114.1 L350.2 108.5 L350.5 107.9 L350.8 115.3 L351.0 112.5 L351.2 112.0 L351.5 110.8 L351.8 106.7 L352.0 106.0 L352.2 110.1 L352.5 108.8 L352.8 116.6 L353.0 109.4 L353.2 104.4 L353.5 106.7 L353.8 105.2 L354.0 112.4 L354.2 110.3 L354.5 112.1 L354.8 106.8 L355.0 110.6 L355.2 112.2 L355.5 114.8 L355.8 112.7 L356.0 112.4 L356.2 111.0 L356.5 112.5 L356.8 108.8 L357.0 109.8 L357.2 106.6 L357.5 108.7 L357.8 106.4 L358.0 103.9 L358.2 102.3 L358.5 107.9 L358.8 100.9 L359.0 97.4 L359.2 102.0 L359.5 98.9 L359.8 98.7 L360.0 98.2 L360.2 106.4 L360.5 101.0 L360.8 98.0 L361.0 97.3 L361.2 98.7 L361.5 100.1 L361.8 94.6 L362.0 97.7 L362.2 103.8 L362.5 95.2 L362.8 98.2 L363.0 100.3 L363.2 99.5 L363.5 97.9 L363.8 90.5 L364.0 97.9 L364.2 96.9 L364.5 96.8 L364.8 101.3 L365.0 92.5 L365.2 95.2 L365.5 98.8 L365.8 101.0 L366.0 101.9 L366.2 106.9 L366.5 104.0 L366.8 105.0 L367.0 104.8 L367.2 97.8 L367.5 96.7 L367.8 105.1 L368.0 102.1 L368.2 101.4 L368.5 97.2 L368.8 98.3 L369.0 95.9 L369.2 97.1 L369.5 101.4 L369.8 99.3 L370.0 99.1 L370.2 105.2 L370.5 105.7 L370.8 106.2 L371.0 108.0 L371.2 104.3 L371.5 103.0 L371.8 97.3 L372.0 103.3 L372.2 103.4 L372.5 104.2 L372.8 101.4 L373.0 105.4 L373.2 107.5 L373.5 107.2 L373.8 101.7 L374.0 101.3 L374.2 103.7 L374.5 102.5 L374.8 105.8 L375.0 109.4 L375.2 105.8 L375.5 105.8 L375.8 104.3 L376.0 108.9 L376.2 110.8 L376.5 115.1 L376.8 112.2 L377.0 106.7 L377.2 108.1 L377.5 106.8 L377.8 107.3 L378.0 110.8 L378.2 107.7 L378.5 109.1 L378.8 100.9 L379.0 106.5 L379.2 106.3 L379.5 104.8 L379.8 103.1 L380.0 108.0 L380.2 104.3 L380.5 107.8 L380.8 103.8 L381.0 103.4 L381.2 103.9 L381.5 109.3 L381.8 106.2 L382.0 104.5 L382.2 102.5 L382.5 100.7 L382.8 98.7 L383.0 105.1 L383.2 107.1 L383.5 101.2 L383.8 100.8 L384.0 96.4 L384.2 100.7 L384.5 101.9 L384.8 100.7 L385.0 97.1 L385.2 100.2 L385.5 101.3 L385.8 99.3 L386.0 101.1 L386.2 95.6 L386.5 95.1 L386.8 93.9 L387.0 96.6 L387.2 102.9 L387.5 101.0 L387.8 103.6 L388.0 101.3 L388.2 99.1 L388.5 102.6 L388.8 103.0 L389.0 106.1 L389.2 106.4 L389.5 101.1 L389.8 93.2 L390.0 97.8 L390.2 96.1 L390.5 94.7 L390.8 94.0 L391.0 96.3 L391.2 99.0 L391.5 101.1 L391.8 108.7 L392.0 102.4 L392.2 103.1 L392.5 99.7 L392.8 98.9 L393.0 101.9 L393.2 104.6 L393.5 100.7 L393.8 106.4 L394.0 102.8 L394.2 107.0 L394.5 106.0 L394.8 108.5 L395.0 108.7 L395.2 106.2 L395.5 107.3 L395.8 102.2 L396.0 99.8 L396.2 101.6 L396.5 107.8 L396.8 104.3 L397.0 103.0 L397.2 109.4 L397.5 107.5 L397.8 106.4 L398.0 102.6 L398.2 104.1 L398.5 106.5 L398.8 105.6 L399.0 107.8 L399.2 107.5 L399.5 109.6 L399.8 110.0 L400.0 107.2 L400.2 109.0 L400.5 112.9 L400.8 110.2 L401.0 104.1 L401.2 105.6 L401.5 105.2 L401.8 113.7 L402.0 112.4 L402.2 105.9 L402.5 105.7 L402.8 110.7 L403.0 105.2 L403.2 104.5 L403.5 105.8 L403.8 106.0 L404.0 104.7 L404.2 106.4 L404.5 102.4 L404.8 103.0 L405.0 103.2 L405.2 104.3 L405.5 104.8 L405.8 105.9 L406.0 105.4 L406.2 104.9 L406.5 107.0 L406.8 109.8 L407.0 111.3 L407.2 105.5 L407.5 106.9 L407.8 109.2 L408.0 107.1 L408.2 108.4 L408.5 106.9 L408.8 108.0 L409.0 102.7 L409.2 106.2 L409.5 105.1 L409.8 103.7 L410.0 104.4 L410.2 108.8 L410.5 110.9 L410.8 109.8 L411.0 111.1 L411.2 107.9 L411.5 103.6 L411.8 99.5 L412.0 103.1 L412.2 104.6 L412.5 105.8 L412.8 106.5 L413.0 110.3 L413.2 105.5 L413.5 103.5 L413.8 110.7 L414.0 110.7 L414.2 107.3 L414.5 100.0 L414.8 100.0 L415.0 101.4 L415.2 102.9 L415.5 104.4 L415.8 103.7 L416.0 107.6 L416.2 102.2 L416.5 102.2 L416.8 100.9 L417.0 104.7 L417.2 104.7 L417.5 106.5 L417.8 105.1 L418.0 111.5 L418.2 111.4 L418.5 105.0 L418.8 103.9 L419.0 102.1 L419.2 104.8 L419.5 106.8 L419.8 106.0 L420.0 103.8 L420.2 101.2 L420.5 107.0 L420.8 108.4 L421.0 96.5 L421.2 99.9 L421.5 98.9 L421.8 99.8 L422.0 106.8 L422.2 101.6 L422.5 99.3 L422.8 109.1 L423.0 105.0 L423.2 103.7 L423.5 107.5 L423.8 104.3 L424.0 104.5 L424.2 105.3 L424.5 109.5 L424.8 102.2 L425.0 101.1 L425.2 102.9 L425.5 107.1 L425.8 104.5 L426.0 106.7 L426.2 104.8 L426.5 104.4 L426.8 109.4 L427.0 107.3 L427.2 114.7 L427.5 112.8 L427.8 113.4 L428.0 112.6 L428.2 105.0 L428.5 101.3 L428.8 105.8 L429.0 103.1 L429.2 103.4 L429.5 104.2 L429.8 102.8 L430.0 108.6 L430.2 110.2 L430.5 109.1 L430.8 109.7 L431.0 105.3 L431.2 108.7 L431.5 104.9 L431.8 110.5 L432.0 106.3 L432.2 104.5 L432.5 108.9 L432.8 109.4 L433.0 104.6 L433.2 107.0 L433.5 106.2 L433.8 105.8 L434.0 107.4 L434.2 108.2 L434.5 109.7 L434.8 108.7 L435.0 107.7 L435.2 105.8 L435.5 109.7 L435.8 104.5 L436.0 110.2 L436.2 111.9 L436.5 111.8 L436.8 109.0 L437.0 111.4 L437.2 111.2 L437.5 110.5 L437.8 110.8 L438.0 110.3 L438.2 108.1 L438.5 101.3 L438.8 94.8 L439.0 99.3 L439.2 102.0 L439.5 104.1 L439.8 103.9 L440.0 96.7 L440.2 100.5 L440.5 104.7 L440.8 108.2 L441.0 102.2 L441.2 99.4 L441.5 98.7 L441.8 98.5 L442.0 95.5 L442.2 96.9 L442.5 104.8 L442.8 100.6 L443.0 96.0 L443.2 98.7 L443.5 99.5 L443.8 103.6 L444.0 101.3 L444.2 102.0 L444.5 100.4 L444.8 99.3 L445.0 103.0 L445.2 104.2 L445.5 104.4 L445.8 106.3 L446.0 103.3 L446.2 104.5 L446.5 105.8 L446.8 109.6 L447.0 102.0 L447.2 103.2 L447.5 106.4 L447.8 104.9 L448.0 106.4 L448.2 109.1 L448.5 110.0 L448.8 103.7 L449.0 102.3 L449.2 100.4 L449.5 104.8 L449.8 107.7 L450.0 112.8 L450.2 111.4 L450.5 107.2 L450.8 112.1 L451.0 107.2 L451.2 108.9 L451.5 109.3 L451.8 112.6 L452.0 114.8 L452.2 111.8 L452.5 109.4 L452.8 110.4 L453.0 109.3 L453.2 113.6 L453.5 114.0 L453.8 117.4 L454.0 120.1 L454.2 114.9 L454.5 111.7 L454.8 113.5 L455.0 114.1 L455.2 112.1 L455.5 106.8 L455.8 117.5 L456.0 115.1 L456.2 109.9 L456.5 104.1 L456.8 112.1 L457.0 113.0 L457.2 112.3 L457.5 108.7 L457.8 109.7 L458.0 109.2 L458.2 103.2 L458.5 114.9 L458.8 114.1 L459.0 111.2 L459.2 107.6 L459.5 106.8 L459.8 115.7 L460.0 113.7 L460.2 107.1 L460.5 110.6 L460.8 110.9 L461.0 110.9 L461.2 108.7 L461.5 107.2 L461.8 107.5 L462.0 106.1 L462.2 101.4 L462.5 100.1 L462.8 102.5 L463.0 98.4 L463.2 100.8 L463.5 101.3 L463.8 104.7 L464.0 104.4 L464.2 102.8 L464.5 101.9 L464.8 103.7 L465.0 106.1 L465.2 101.0 L465.5 96.9 L465.8 97.4 L466.0 94.6 L466.2 95.2 L466.5 101.5 L466.8 105.2 L467.0 108.9 L467.2 106.1 L467.5 105.1 L467.8 102.3 L468.0 101.1 L468.2 103.2 L468.5 106.2 L468.8 106.3 L469.0 98.7 L469.2 102.9 L469.5 103.5 L469.8 102.0 L470.0 103.7 L470.2 106.9 L470.5 106.2 L470.8 103.2 L471.0 112.8 L471.2 107.7 L471.5 107.8 L471.8 110.4 L472.0 105.0 L472.2 106.7 L472.5 103.2 L472.8 103.3 L473.0 101.7 L473.2 108.8 L473.5 102.5 L473.8 105.2 L474.0 105.0 L474.2 98.5 L474.5 106.9 L474.8 103.8 L475.0 103.2 L475.2 104.3 L475.5 101.3 L475.8 100.2 L476.0 102.0 L476.2 100.2 L476.5 102.3 L476.8 107.1 L477.0 102.3 L477.2 98.1 L477.5 100.6 L477.8 103.6 L478.0 105.9 L478.2 101.6 L478.5 96.3 L478.8 102.7 L479.0 105.8 L479.2 109.9 L479.5 104.2 L479.8 106.2 L480.0 108.6 L480.2 100.9 L480.5 106.2 L480.8 110.0 L481.0 109.3 L481.2 108.9 L481.5 109.3 L481.8 106.4 L482.0 101.3 L482.2 100.4 L482.5 102.3 L482.8 101.2 L483.0 106.6 L483.2 104.8 L483.5 104.9 L483.8 99.8 L484.0 104.1 L484.2 102.9 L484.5 109.2 L484.8 102.4 L485.0 105.4 L485.2 104.7 L485.5 104.5 L485.8 111.0 L486.0 112.0 L486.2 106.9 L486.5 111.4 L486.8 107.3 L487.0 109.9 L487.2 103.3 L487.5 104.5 L487.8 105.3 L488.0 105.6 L488.2 101.9 L488.5 100.3 L488.8 103.7 L489.0 108.0 L489.2 108.4 L489.5 107.5 L489.8 103.4 L490.0 105.3 L490.2 105.4 L490.5 104.9 L490.8 107.5 L491.0 108.9 L491.2 110.2 L491.5 108.9 L491.8 106.4 L492.0 107.1 L492.2 107.1 L492.5 102.9 L492.8 104.8 L493.0 101.6 L493.2 100.9 L493.5 101.1 L493.8 102.7 L494.0 107.7 L494.2 106.9 L494.5 109.1 L494.8 112.9 L495.0 110.7 L495.2 110.3 L495.5 106.8 L495.8 109.7 L496.0 108.8 L496.2 108.3 L496.5 104.4 L496.8 103.0 L497.0 103.2 L497.2 105.8 L497.5 110.2 L497.8 104.3 L498.0 105.0 L498.2 105.6 L498.5 114.1 L498.8 110.6 L499.0 107.9 L499.2 110.6 L499.5 106.3 L499.8 109.3 L500.0 103.9 L500.2 112.8 L500.5 110.8 L500.8 108.6 L501.0 104.8 L501.2 106.5 L501.5 108.1 L501.8 106.3 L502.0 111.4 L502.2 109.2 L502.5 109.4 L502.8 110.1 L503.0 113.8 L503.2 110.2 L503.5 109.8 L503.8 110.3 L504.0 111.6 L504.2 104.6 L504.5 110.5 L504.8 109.5 L505.0 107.2 L505.2 108.3 L505.5 103.0 L505.8 104.1 L506.0 107.6 L506.2 113.2 L506.5 111.6 L506.8 112.3 L507.0 110.7 L507.2 113.5 L507.5 111.1 L507.8 112.7 L508.0 111.1 L508.2 108.4 L508.5 107.1 L508.8 107.6 L509.0 113.6 L509.2 120.4 L509.5 117.1 L509.8 112.6 L510.0 114.4 L510.2 115.2 L510.5 112.4 L510.8 118.7 L511.0 118.7 L511.2 118.9 L511.5 116.2 L511.8 115.1 L512.0 117.2 L512.2 110.8 L512.5 109.5 L512.8 111.5 L513.0 107.6 L513.2 115.3 L513.5 112.0 L513.8 110.9 L514.0 112.6 L514.2 117.1 L514.5 114.4 L514.8 110.7 L515.0 108.2 L515.2 110.5 L515.5 109.0 L515.8 117.4 L516.0 118.0 L516.2 104.4 L516.5 104.5 L516.8 108.5 L517.0 116.5 L517.2 106.9 L517.5 106.9 L517.8 112.0 L518.0 108.6 L518.2 109.1 L518.5 107.6 L518.8 110.3 L519.0 106.1 L519.2 107.4 L519.5 103.4 L519.8 108.9 L520.0 110.4 L520.2 109.0 L520.5 108.5 L520.8 108.1 L521.0 106.6 L521.2 107.4 L521.5 108.3 L521.8 107.3 L522.0 105.0 L522.2 104.4 L522.5 103.8 L522.8 106.2 L523.0 106.4 L523.2 112.1 L523.5 108.1 L523.8 106.8 L524.0 103.8 L524.2 104.6 L524.5 103.1 L524.8 101.0 L525.0 103.1 L525.2 108.5 L525.5 103.5 L525.8 101.5 L526.0 102.4 L526.2 103.7 L526.5 107.6 L526.8 103.3 L527.0 102.8 L527.2 100.4 L527.5 98.9 L527.8 99.4 L528.0 97.5 L528.2 101.5 L528.5 105.3 L528.8 102.3 L529.0 100.1 L529.2 105.4 L529.5 103.2" stroke="#EDB120" stroke-width="1.5" fill="none" stroke-linejoin="round"/>
</g>
<rect x="63.5" y="6.4" width="466.0" height="213.1" stroke="#4a4a4a" stroke-width="1.25" fill="none"/>
<g font-size="14.5px">
<text x="63.50" y="237.8" text-anchor="middle">0</text>
<text x="110.10" y="237.8" text-anchor="middle">200</text>
<text x="156.70" y="237.8" text-anchor="middle">400</text>
<text x="203.30" y="237.8" text-anchor="middle">600</text>
<text x="249.90" y="237.8" text-anchor="middle">800</text>
<text x="296.50" y="237.8" text-anchor="middle">1000</text>
<text x="343.10" y="237.8" text-anchor="middle">1200</text>
<text x="389.70" y="237.8" text-anchor="middle">1400</text>
<text x="436.30" y="237.8" text-anchor="middle">1600</text>
<text x="482.90" y="237.8" text-anchor="middle">1800</text>
<text x="529.50" y="237.8" text-anchor="middle">2000</text>
<text x="58.8" y="223.10" text-anchor="end" letter-spacing="0.5">0.4</text>
<text transform="translate(28.7,223.80) scale(1.22,1)">−</text>
<text x="58.8" y="166.30" text-anchor="end" letter-spacing="0.5">0.2</text>
<text transform="translate(28.7,167.00) scale(1.22,1)">−</text>
<text x="58.8" y="109.50" text-anchor="end" letter-spacing="0.5">0</text>
<text x="58.8" y="52.70" text-anchor="end" letter-spacing="0.5">0.2</text>
</g>
<text x="296.5" y="259.5" font-size="16px" text-anchor="middle" letter-spacing="0.2">Road lenth (m)</text>
<text transform="translate(20.2,113.1) rotate(-90)" font-size="16px" text-anchor="middle" letter-spacing="0.15">Road roughness (m)</text>
<g id="legend">
<rect x="76.5" y="157.6" width="89.5" height="51.2" fill="#fff" stroke="#3a3a3a" stroke-width="0.9"/>
<line x1="80.3" y1="167.5" x2="117.2" y2="167.5" stroke="#0072BD" stroke-width="1.5"/>
<line x1="80.3" y1="183.6" x2="117.2" y2="183.6" stroke="#D95319" stroke-width="1.5"/>
<line x1="80.3" y1="199.7" x2="117.2" y2="199.7" stroke="#EDB120" stroke-width="1.5"/>
<g font-size="13.4px" style="stroke-width:0.3px">
<text x="119.7" y="172.4">Class E</text>
<text x="119.7" y="188.5">Class D</text>
<text x="119.7" y="204.8">Class C</text>
</g>
</g>
</svg>
</body></html>
